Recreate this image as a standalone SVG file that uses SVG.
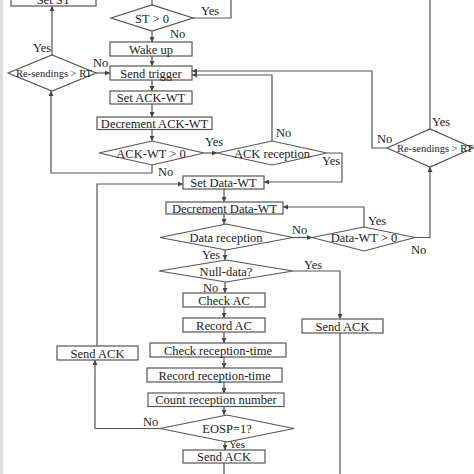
<svg xmlns="http://www.w3.org/2000/svg" width="474" height="474" viewBox="0 0 474 474">
<style>
.b{fill:#fff;stroke:#555;stroke-width:1.2}
.c{fill:none;stroke:#555;stroke-width:1.2}
text{font-family:"Liberation Serif","DejaVu Serif",serif;font-size:12.5px;fill:#222}
.t{text-anchor:middle}
.s{font-size:10.5px}
</style>
<defs>
<marker id="a" viewBox="0 0 6 6" refX="6" refY="3" markerWidth="5" markerHeight="5" orient="auto" markerUnits="userSpaceOnUse">
<path d="M0,0 L6,3 L0,6 z" fill="#444"/>
</marker>
</defs>
<rect width="474" height="474" fill="#fff"/>
<rect x="0" y="0" width="3" height="474" fill="#ddd"/>
<g id="connectors" class="c">
<path d="M152,5 V0"/>
<path d="M193,18 H231 V0"/>
<path d="M152,31 V42" marker-end="url(#a)"/>
<path d="M152,56 V66" marker-end="url(#a)"/>
<path d="M152,80 V91" marker-end="url(#a)"/>
<path d="M152,104 V117" marker-end="url(#a)"/>
<path d="M152,129.5 V141" marker-end="url(#a)"/>
<path d="M204,153 H217" marker-end="url(#a)"/>
<path d="M272,141 V75 H192" marker-end="url(#a)"/>
<path d="M327,153 H342 V182 H264" marker-end="url(#a)"/>
<path d="M152,165 V173 H51 V91" marker-end="url(#a)"/>
<path d="M52,55 V6" marker-end="url(#a)"/>
<path d="M96,73 H110" marker-end="url(#a)"/>
<path d="M430,129 V0"/>
<path d="M387,148 H372 V71 H192" marker-end="url(#a)"/>
<path d="M224,189 V202" marker-end="url(#a)"/>
<path d="M224,214 V224" marker-end="url(#a)"/>
<path d="M293,237.5 H312" marker-end="url(#a)"/>
<path d="M364,227 V207 H283" marker-end="url(#a)"/>
<path d="M415,237.5 H430 V167" marker-end="url(#a)"/>
<path d="M225,250 V260" marker-end="url(#a)"/>
<path d="M293,271 H340 V319" marker-end="url(#a)"/>
<path d="M225,282 V293" marker-end="url(#a)"/>
<path d="M224,307 V318" marker-end="url(#a)"/>
<path d="M224,332 V343" marker-end="url(#a)"/>
<path d="M224,357 V368" marker-end="url(#a)"/>
<path d="M224,382 V393" marker-end="url(#a)"/>
<path d="M224,406.5 V415" marker-end="url(#a)"/>
<path d="M160,428.5 H95 V360" marker-end="url(#a)"/>
<path d="M225,442 V450" marker-end="url(#a)"/>
<path d="M224,463 V474"/>
<path d="M97,346 V184 H183" marker-end="url(#a)"/>
<path d="M340,333 V474"/>
</g>
<g id="labels">
<text x="201" y="15">Yes</text>
<text x="170" y="38">No</text>
<text x="205" y="146">Yes</text>
<text x="276" y="137">No</text>
<text x="322" y="165">Yes</text>
<text x="158" y="176">No</text>
<text x="33" y="52">Yes</text>
<text x="93" y="67">No</text>
<text x="432" y="126">Yes</text>
<text x="377" y="143">No</text>
<text x="292" y="234">No</text>
<text x="368" y="225">Yes</text>
<text x="411" y="254">No</text>
<text x="202" y="259">Yes</text>
<text x="304" y="269">Yes</text>
<text x="203" y="292">No</text>
<text x="143" y="426">No</text>
<text x="229" y="448" style="font-size:11px">Yes</text>
</g>
<g id="set-st"><rect class="b" x="11" y="-10" width="85" height="16"/><text class="t" x="53.5" y="3.5">Set ST</text></g>
<g id="st-gt-0"><polygon class="b" points="111,18 152,5 193,18 152,31"/><text class="t" x="152" y="22.5">ST &gt; 0</text></g>
<g id="wake-up"><rect class="b" x="110" y="42" width="82" height="14"/><text class="t" x="151" y="53.5">Wake up</text></g>
<g id="send-trigger"><rect class="b" x="110" y="66" width="82" height="14"/><text class="t" x="151" y="77.5">Send trigger</text></g>
<g id="set-ack-wt"><rect class="b" x="110" y="91" width="82" height="13"/><text class="t" x="151" y="102">Set ACK-WT</text></g>
<g id="dec-ack-wt"><rect class="b" x="97" y="117" width="115" height="12.5"/><text class="t" x="154.5" y="127.5">Decrement ACK-WT</text></g>
<g id="ack-wt-gt-0"><polygon class="b" points="99,153 152,141 204,153 152,165"/><text class="t" x="151" y="157.5">ACK-WT &gt; 0</text></g>
<g id="ack-reception"><polygon class="b" points="217,153 272,141 327,153 272,165"/><text class="t" x="272" y="157.5">ACK reception</text></g>
<g id="resend-left"><polygon class="b" points="8,73 52,55 96,73 52,91"/><text class="t s" x="54" y="76.5">Re-sendings &gt; RT</text></g>
<g id="resend-right"><polygon class="b" points="387,148 430,129 473,148 430,167"/><text class="t s" x="435" y="151.5">Re-sendings &gt; RT</text></g>
<g id="set-data-wt"><rect class="b" x="183" y="176" width="81" height="13"/><text class="t" x="223.5" y="187">Set Data-WT</text></g>
<g id="dec-data-wt"><rect class="b" x="166" y="202" width="117" height="12"/><text class="t" x="224.5" y="212.5">Decrement Data-WT</text></g>
<g id="data-reception"><polygon class="b" points="160,237.5 226,224 293,237.5 226,250"/><text class="t" x="226" y="242">Data reception</text></g>
<g id="data-wt-gt-0"><polygon class="b" points="312,237.5 364,227 415,237.5 364,251"/><text class="t" x="364" y="242">Data-WT &gt; 0</text></g>
<g id="null-data"><polygon class="b" points="159,271 226,260 293,271 226,282"/><text class="t" x="226" y="275.5">Null-data?</text></g>
<g id="check-ac"><rect class="b" x="183" y="293" width="82" height="14"/><text class="t" x="224" y="304.5">Check AC</text></g>
<g id="record-ac"><rect class="b" x="183" y="318" width="82" height="14"/><text class="t" x="224" y="329.5">Record AC</text></g>
<g id="check-rt"><rect class="b" x="150" y="343" width="136" height="14"/><text class="t" x="218" y="354.5">Check reception-time</text></g>
<g id="record-rt"><rect class="b" x="147" y="368" width="135" height="14"/><text class="t" x="214.5" y="379.5">Record reception-time</text></g>
<g id="count-rn"><rect class="b" x="148" y="393" width="136" height="13.5"/><text class="t" x="216" y="404">Count reception number</text></g>
<g id="eosp"><polygon class="b" points="160,428.5 227,415 294,428.5 227,442"/><text class="t" x="227" y="433">EOSP=1?</text></g>
<g id="send-ack-bottom"><rect class="b" x="183" y="450" width="82" height="13"/><text class="t" x="224" y="461">Send ACK</text></g>
<g id="send-ack-left"><rect class="b" x="57" y="346" width="81" height="14"/><text class="t" x="97.5" y="357.5">Send ACK</text></g>
<g id="send-ack-right"><rect class="b" x="302" y="319" width="81" height="14"/><text class="t" x="342.5" y="330.5">Send ACK</text></g>
</svg>
